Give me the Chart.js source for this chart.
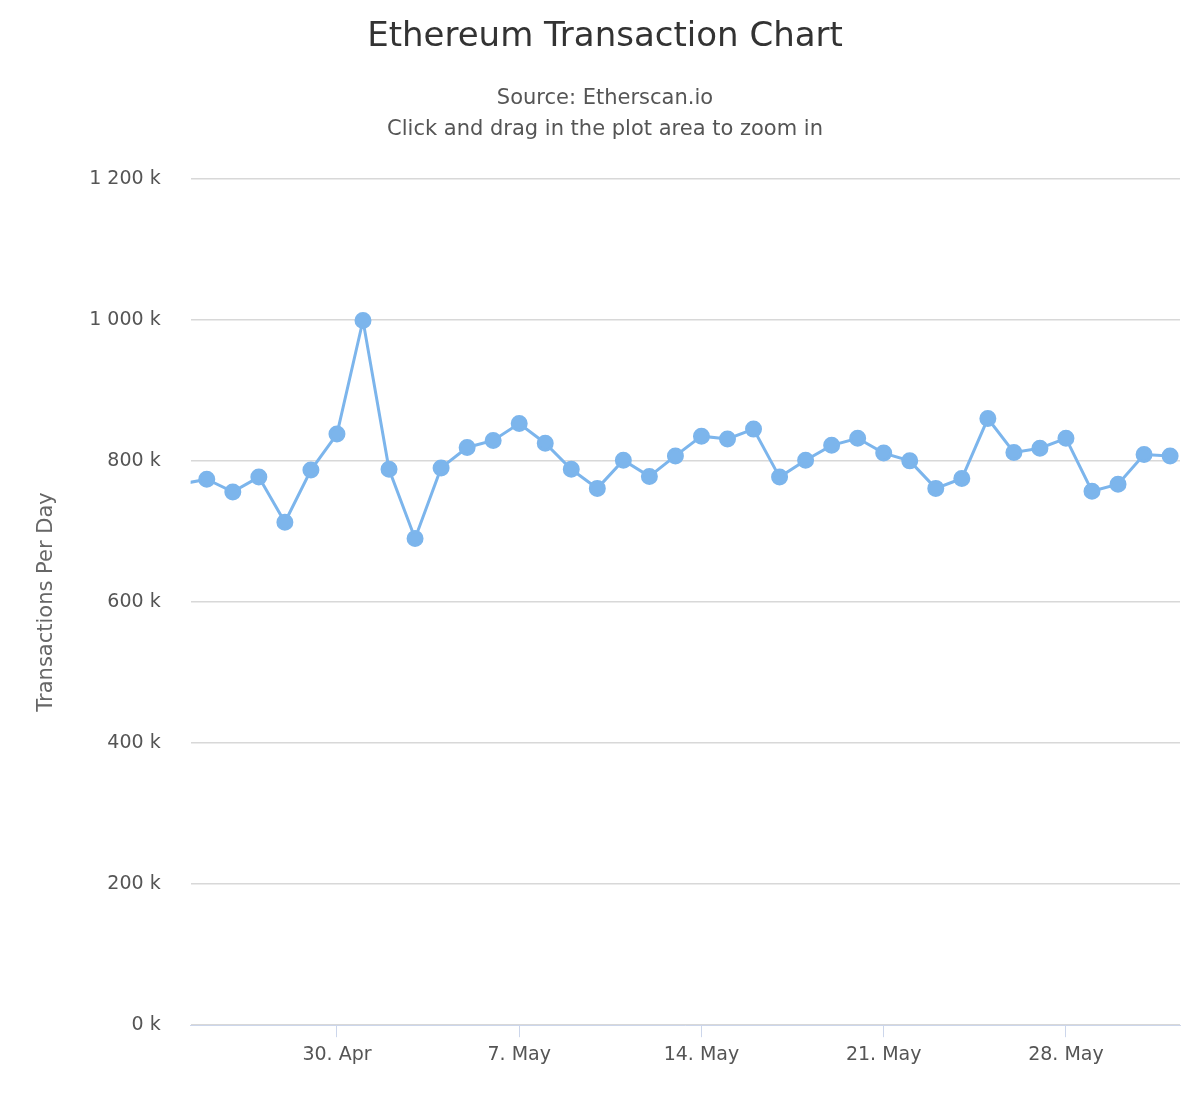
<!DOCTYPE html>
<html>
<head>
<meta charset="utf-8">
<script src="https://cdn.jsdelivr.net/npm/chart.js@4"></script>
<style>
  html, body { margin: 0; background: #fff; }
  #wrap { width: 1200px; height: 1100px; }
</style>
</head>
<body>
<div id="wrap"><canvas id="chart"></canvas></div>
<script>
// Day 0 = 24 Apr
const startDate = new Date(Date.UTC(2017, 3, 24));
const txPerDayK = [767, 774, 756, 777, 713, 787, 838, 999, 788, 690, 790, 819, 829, 853, 825, 788,
  761, 801, 778, 807, 835, 831, 845, 777, 801, 822, 832, 811, 800, 761, 775, 860, 812, 818, 832,
  757, 767, 809, 807];
const tickDays = [6, 13, 20, 27, 34];
const monthNames = ['Jan', 'Feb', 'Mar', 'Apr', 'May', 'Jun', 'Jul', 'Aug', 'Sep', 'Oct', 'Nov', 'Dec'];

function dayLabel(i) {
    const d = new Date(startDate.getTime() + i * 86400000);
    return d.getUTCDate() + '. ' + monthNames[d.getUTCMonth()];
}

const points = txPerDayK.map((v, i) => ({ x: i, y: v }));
const font = 'DejaVu Sans';

new Chart(document.getElementById('chart'), {
    type: 'line',
    data: {
        datasets: [{
            data: points,
            borderColor: '#7cb5ec',
            backgroundColor: '#7cb5ec',
            borderWidth: 3,
            pointRadius: 7,
            pointHoverRadius: 8,
            tension: 0,
        }],
    },
    options: {
        responsive: true,
        maintainAspectRatio: false,
        animation: false,
        layout: { padding: { top: 13, right: 20, bottom: 28, left: 30 } },
        plugins: {
            legend: { display: false },
            title: {
                display: true,
                text: 'Ethereum Transaction Chart',
                color: '#333333',
                font: { family: font, size: 34, weight: 'normal' },
                padding: { top: 4, bottom: 26 },
            },
            subtitle: {
                display: true,
                text: ['Source: Etherscan.io', 'Click and drag in the plot area to zoom in'],
                color: '#555555',
                font: { family: font, size: 21, lineHeight: 1.45 },
                padding: { bottom: 34 },
            },
        },
        scales: {
            x: {
                type: 'linear',
                min: 0.38,
                max: 38.38,
                afterBuildTicks: (axis) => { axis.ticks = tickDays.map(v => ({ value: v })); },
                ticks: {
                    callback: (v) => dayLabel(v),
                    color: '#555555',
                    font: { family: font, size: 19 },
                    maxRotation: 0,
                    autoSkip: false,
                    padding: 6,
                },
                grid: { display: true, drawOnChartArea: false, color: '#ccd6eb', tickLength: 12, lineWidth: 1 },
                border: { color: '#ccd6eb', width: 1 },
            },
            y: {
                min: 0,
                max: 1200,
                afterBuildTicks: (axis) => { axis.ticks = [0, 200, 400, 600, 800, 1000, 1200].map(v => ({ value: v })); },
                ticks: {
                    callback: (v) => String(v).replace(/\B(?=(\d{3})+(?!\d))/g, ' ') + ' k',
                    color: '#555555',
                    font: { family: font, size: 19 },
                    padding: 30,
                },
                grid: { color: '#d8d8d8', lineWidth: 1.5, drawTicks: false },
                border: { display: false },
                title: {
                    display: true,
                    text: 'Transactions Per Day',
                    color: '#666666',
                    font: { family: font, size: 21 },
                    padding: { bottom: 0 },
                },
            },
        },
    },
});
</script>
</body>
</html>
